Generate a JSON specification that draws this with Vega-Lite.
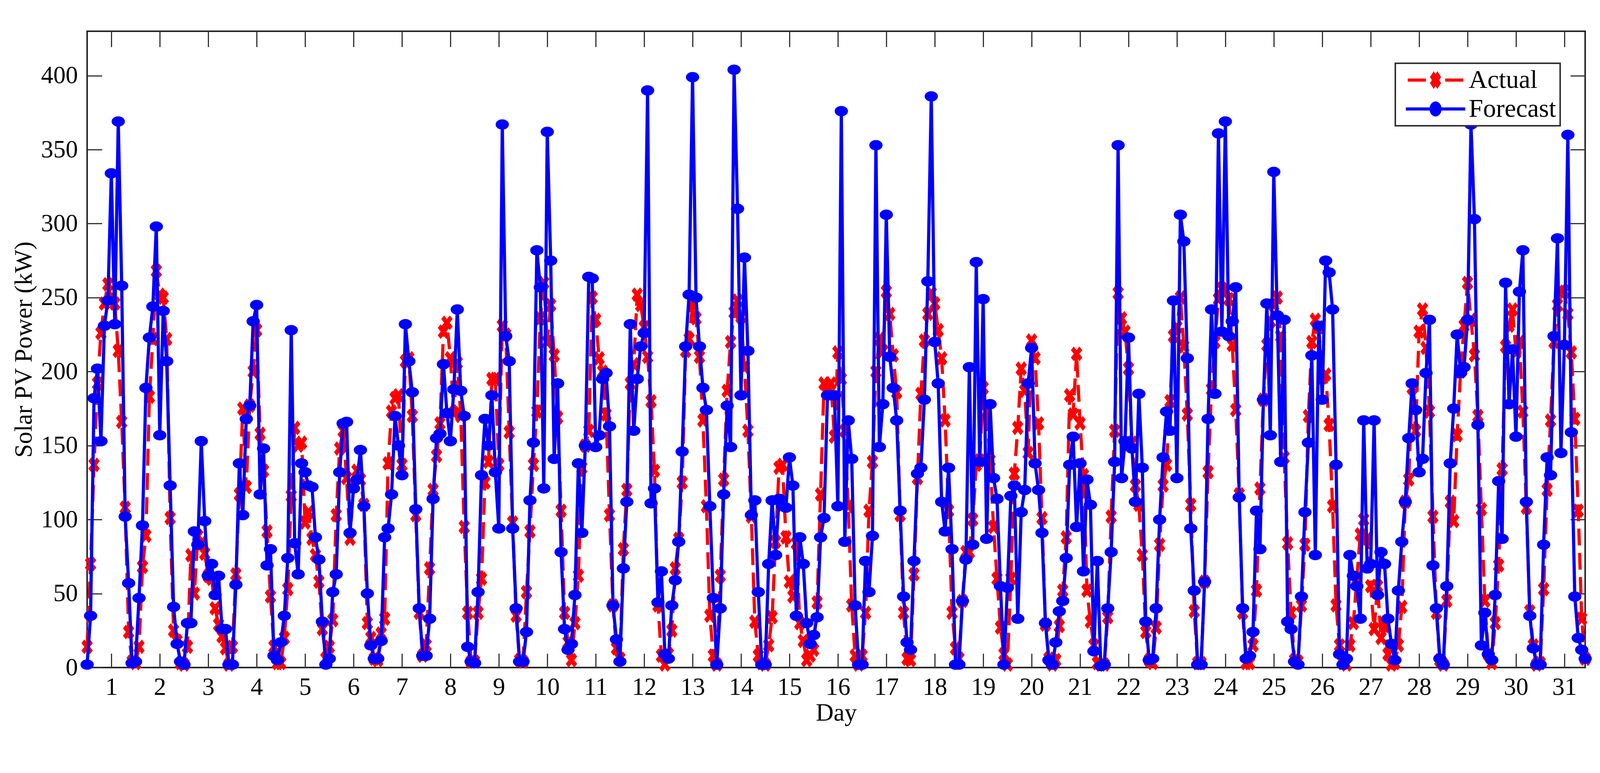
{
  "$schema": "https://vega.github.io/schema/vega-lite/v6.json",
  "width": 3835,
  "height": 1629,
  "autosize": {"type": "none"},
  "padding": {"left": 223, "top": 80, "right": 52, "bottom": 175},
  "background": "white",
  "config": {
    "view": {"stroke": "#262626", "strokeWidth": 4},
    "axis": {
      "domain": false,
      "grid": false,
      "tickColor": "#333333",
      "tickWidth": 3,
      "labelFont": "Liberation Serif",
      "labelFontSize": 63,
      "labelColor": "black",
      "titleFont": "Liberation Serif",
      "titleFontSize": 63,
      "titleFontWeight": "normal",
      "titleColor": "black"
    }
  },
  "data": {
    "values": [
      {"h": 0, "Actual": 14, "Forecast": 2}, {"h": 1, "Actual": 70, "Forecast": 35}, {"h": 2, "Actual": 137, "Forecast": 182}, {"h": 3, "Actual": 192, "Forecast": 202}, {"h": 4, "Actual": 226, "Forecast": 153}, {"h": 5, "Actual": 246, "Forecast": 231}, {"h": 6, "Actual": 259, "Forecast": 248}, {"h": 7, "Actual": 250, "Forecast": 334}, {"h": 8, "Actual": 246, "Forecast": 232}, {"h": 9, "Actual": 214, "Forecast": 369}, {"h": 10, "Actual": 166, "Forecast": 258}, {"h": 11, "Actual": 108, "Forecast": 102}, {"h": 12, "Actual": 24, "Forecast": 57}, {"h": 13, "Actual": 4, "Forecast": 3},
      {"h": 14, "Actual": 3, "Forecast": 4}, {"h": 15, "Actual": 14, "Forecast": 47}, {"h": 16, "Actual": 68, "Forecast": 96}, {"h": 17, "Actual": 89, "Forecast": 189}, {"h": 18, "Actual": 183, "Forecast": 223}, {"h": 19, "Actual": 222, "Forecast": 244}, {"h": 20, "Actual": 268, "Forecast": 298}, {"h": 21, "Actual": 252, "Forecast": 157}, {"h": 22, "Actual": 250, "Forecast": 241}, {"h": 23, "Actual": 222, "Forecast": 207}, {"h": 24, "Actual": 101, "Forecast": 123}, {"h": 25, "Actual": 25, "Forecast": 41}, {"h": 26, "Actual": 18, "Forecast": 16}, {"h": 27, "Actual": 3, "Forecast": 4},
      {"h": 28, "Actual": 2, "Forecast": 2}, {"h": 29, "Actual": 14, "Forecast": 30}, {"h": 30, "Actual": 76, "Forecast": 30}, {"h": 31, "Actual": 50, "Forecast": 92}, {"h": 32, "Actual": 89, "Forecast": 83}, {"h": 33, "Actual": 84, "Forecast": 153}, {"h": 34, "Actual": 77, "Forecast": 99}, {"h": 35, "Actual": 62, "Forecast": 62}, {"h": 36, "Actual": 60, "Forecast": 70}, {"h": 37, "Actual": 40, "Forecast": 49}, {"h": 38, "Actual": 29, "Forecast": 62}, {"h": 39, "Actual": 21, "Forecast": 26}, {"h": 40, "Actual": 13, "Forecast": 26}, {"h": 41, "Actual": 2, "Forecast": 2},
      {"h": 42, "Actual": 14, "Forecast": 2}, {"h": 43, "Actual": 63, "Forecast": 56}, {"h": 44, "Actual": 117, "Forecast": 138}, {"h": 45, "Actual": 175, "Forecast": 103}, {"h": 46, "Actual": 122, "Forecast": 168}, {"h": 47, "Actual": 177, "Forecast": 177}, {"h": 48, "Actual": 200, "Forecast": 234}, {"h": 49, "Actual": 228, "Forecast": 245}, {"h": 50, "Actual": 158, "Forecast": 117}, {"h": 51, "Actual": 133, "Forecast": 148}, {"h": 52, "Actual": 92, "Forecast": 69}, {"h": 53, "Actual": 48, "Forecast": 80}, {"h": 54, "Actual": 14, "Forecast": 8}, {"h": 55, "Actual": 3, "Forecast": 5},
      {"h": 56, "Actual": 3, "Forecast": 17}, {"h": 57, "Actual": 20, "Forecast": 35}, {"h": 58, "Actual": 53, "Forecast": 74}, {"h": 59, "Actual": 116, "Forecast": 228}, {"h": 60, "Actual": 162, "Forecast": 84}, {"h": 61, "Actual": 150, "Forecast": 63}, {"h": 62, "Actual": 152, "Forecast": 138}, {"h": 63, "Actual": 98, "Forecast": 132}, {"h": 64, "Actual": 105, "Forecast": 123}, {"h": 65, "Actual": 87, "Forecast": 122}, {"h": 66, "Actual": 76, "Forecast": 88}, {"h": 67, "Actual": 58, "Forecast": 73}, {"h": 68, "Actual": 26, "Forecast": 31}, {"h": 69, "Actual": 6, "Forecast": 2},
      {"h": 70, "Actual": 14, "Forecast": 6}, {"h": 71, "Actual": 32, "Forecast": 51}, {"h": 72, "Actual": 103, "Forecast": 63}, {"h": 73, "Actual": 148, "Forecast": 132}, {"h": 74, "Actual": 160, "Forecast": 165}, {"h": 75, "Actual": 128, "Forecast": 166}, {"h": 76, "Actual": 87, "Forecast": 91}, {"h": 77, "Actual": 123, "Forecast": 121}, {"h": 78, "Actual": 133, "Forecast": 127}, {"h": 79, "Actual": 127, "Forecast": 147}, {"h": 80, "Actual": 110, "Forecast": 109}, {"h": 81, "Actual": 30, "Forecast": 50}, {"h": 82, "Actual": 20, "Forecast": 15}, {"h": 83, "Actual": 6, "Forecast": 6},
      {"h": 84, "Actual": 5, "Forecast": 6}, {"h": 85, "Actual": 23, "Forecast": 18}, {"h": 86, "Actual": 33, "Forecast": 88}, {"h": 87, "Actual": 138, "Forecast": 94}, {"h": 88, "Actual": 173, "Forecast": 117}, {"h": 89, "Actual": 182, "Forecast": 170}, {"h": 90, "Actual": 184, "Forecast": 150}, {"h": 91, "Actual": 137, "Forecast": 130}, {"h": 92, "Actual": 207, "Forecast": 232}, {"h": 93, "Actual": 209, "Forecast": 207}, {"h": 94, "Actual": 170, "Forecast": 186}, {"h": 95, "Actual": 103, "Forecast": 107}, {"h": 96, "Actual": 37, "Forecast": 40}, {"h": 97, "Actual": 8, "Forecast": 8},
      {"h": 98, "Actual": 15, "Forecast": 8}, {"h": 99, "Actual": 67, "Forecast": 33}, {"h": 100, "Actual": 120, "Forecast": 114}, {"h": 101, "Actual": 143, "Forecast": 155}, {"h": 102, "Actual": 165, "Forecast": 158}, {"h": 103, "Actual": 227, "Forecast": 205}, {"h": 104, "Actual": 233, "Forecast": 172}, {"h": 105, "Actual": 209, "Forecast": 153}, {"h": 106, "Actual": 172, "Forecast": 188}, {"h": 107, "Actual": 206, "Forecast": 242}, {"h": 108, "Actual": 170, "Forecast": 187}, {"h": 109, "Actual": 95, "Forecast": 170}, {"h": 110, "Actual": 37, "Forecast": 14}, {"h": 111, "Actual": 4, "Forecast": 4},
      {"h": 112, "Actual": 4, "Forecast": 3}, {"h": 113, "Actual": 37, "Forecast": 51}, {"h": 114, "Actual": 60, "Forecast": 130}, {"h": 115, "Actual": 125, "Forecast": 168}, {"h": 116, "Actual": 139, "Forecast": 150}, {"h": 117, "Actual": 195, "Forecast": 184}, {"h": 118, "Actual": 195, "Forecast": 132}, {"h": 119, "Actual": 137, "Forecast": 94}, {"h": 120, "Actual": 231, "Forecast": 367}, {"h": 121, "Actual": 225, "Forecast": 224}, {"h": 122, "Actual": 159, "Forecast": 207}, {"h": 123, "Actual": 98, "Forecast": 94}, {"h": 124, "Actual": 35, "Forecast": 40}, {"h": 125, "Actual": 5, "Forecast": 4},
      {"h": 126, "Actual": 4, "Forecast": 4}, {"h": 127, "Actual": 51, "Forecast": 24}, {"h": 128, "Actual": 92, "Forecast": 113}, {"h": 129, "Actual": 137, "Forecast": 152}, {"h": 130, "Actual": 173, "Forecast": 282}, {"h": 131, "Actual": 236, "Forecast": 257}, {"h": 132, "Actual": 260, "Forecast": 121}, {"h": 133, "Actual": 220, "Forecast": 362}, {"h": 134, "Actual": 245, "Forecast": 275}, {"h": 135, "Actual": 211, "Forecast": 141}, {"h": 136, "Actual": 169, "Forecast": 192}, {"h": 137, "Actual": 106, "Forecast": 78}, {"h": 138, "Actual": 37, "Forecast": 26}, {"h": 139, "Actual": 17, "Forecast": 12},
      {"h": 140, "Actual": 5, "Forecast": 16}, {"h": 141, "Actual": 30, "Forecast": 49}, {"h": 142, "Actual": 62, "Forecast": 138}, {"h": 143, "Actual": 135, "Forecast": 91}, {"h": 144, "Actual": 150, "Forecast": 150}, {"h": 145, "Actual": 160, "Forecast": 264}, {"h": 146, "Actual": 250, "Forecast": 263}, {"h": 147, "Actual": 235, "Forecast": 149}, {"h": 148, "Actual": 209, "Forecast": 157}, {"h": 149, "Actual": 200, "Forecast": 195}, {"h": 150, "Actual": 171, "Forecast": 199}, {"h": 151, "Actual": 103, "Forecast": 163}, {"h": 152, "Actual": 42, "Forecast": 42}, {"h": 153, "Actual": 13, "Forecast": 19},
      {"h": 154, "Actual": 6, "Forecast": 4}, {"h": 155, "Actual": 80, "Forecast": 67}, {"h": 156, "Actual": 120, "Forecast": 112}, {"h": 157, "Actual": 192, "Forecast": 232}, {"h": 158, "Actual": 205, "Forecast": 160}, {"h": 159, "Actual": 252, "Forecast": 195}, {"h": 160, "Actual": 245, "Forecast": 217}, {"h": 161, "Actual": 230, "Forecast": 226}, {"h": 162, "Actual": 210, "Forecast": 390}, {"h": 163, "Actual": 180, "Forecast": 111}, {"h": 164, "Actual": 133, "Forecast": 121}, {"h": 165, "Actual": 42, "Forecast": 44}, {"h": 166, "Actual": 8, "Forecast": 65}, {"h": 167, "Actual": 2, "Forecast": 9},
      {"h": 168, "Actual": 9, "Forecast": 6}, {"h": 169, "Actual": 25, "Forecast": 42}, {"h": 170, "Actual": 67, "Forecast": 59}, {"h": 171, "Actual": 87, "Forecast": 85}, {"h": 172, "Actual": 125, "Forecast": 146}, {"h": 173, "Actual": 214, "Forecast": 217}, {"h": 174, "Actual": 222, "Forecast": 252}, {"h": 175, "Actual": 245, "Forecast": 399}, {"h": 176, "Actual": 236, "Forecast": 250}, {"h": 177, "Actual": 210, "Forecast": 217}, {"h": 178, "Actual": 167, "Forecast": 189}, {"h": 179, "Actual": 109, "Forecast": 174}, {"h": 180, "Actual": 35, "Forecast": 109}, {"h": 181, "Actual": 8, "Forecast": 47},
      {"h": 182, "Actual": 2, "Forecast": 2}, {"h": 183, "Actual": 62, "Forecast": 40}, {"h": 184, "Actual": 127, "Forecast": 117}, {"h": 185, "Actual": 187, "Forecast": 177}, {"h": 186, "Actual": 220, "Forecast": 149}, {"h": 187, "Actual": 240, "Forecast": 404}, {"h": 188, "Actual": 248, "Forecast": 310}, {"h": 189, "Actual": 237, "Forecast": 184}, {"h": 190, "Actual": 203, "Forecast": 277}, {"h": 191, "Actual": 160, "Forecast": 214}, {"h": 192, "Actual": 102, "Forecast": 103}, {"h": 193, "Actual": 31, "Forecast": 113}, {"h": 194, "Actual": 8, "Forecast": 51}, {"h": 195, "Actual": 3, "Forecast": 2},
      {"h": 196, "Actual": 2, "Forecast": 2}, {"h": 197, "Actual": 15, "Forecast": 70}, {"h": 198, "Actual": 34, "Forecast": 113}, {"h": 199, "Actual": 85, "Forecast": 76}, {"h": 200, "Actual": 135, "Forecast": 114}, {"h": 201, "Actual": 137, "Forecast": 109}, {"h": 202, "Actual": 88, "Forecast": 108}, {"h": 203, "Actual": 58, "Forecast": 142}, {"h": 204, "Actual": 48, "Forecast": 123}, {"h": 205, "Actual": 84, "Forecast": 35}, {"h": 206, "Actual": 30, "Forecast": 88}, {"h": 207, "Actual": 18, "Forecast": 70}, {"h": 208, "Actual": 5, "Forecast": 30}, {"h": 209, "Actual": 8, "Forecast": 16},
      {"h": 210, "Actual": 12, "Forecast": 22}, {"h": 211, "Actual": 44, "Forecast": 34}, {"h": 212, "Actual": 117, "Forecast": 88}, {"h": 213, "Actual": 192, "Forecast": 101}, {"h": 214, "Actual": 190, "Forecast": 184}, {"h": 215, "Actual": 192, "Forecast": 184}, {"h": 216, "Actual": 156, "Forecast": 184}, {"h": 217, "Actual": 213, "Forecast": 109}, {"h": 218, "Actual": 195, "Forecast": 376}, {"h": 219, "Actual": 160, "Forecast": 85}, {"h": 220, "Actual": 109, "Forecast": 167}, {"h": 221, "Actual": 42, "Forecast": 141}, {"h": 222, "Actual": 8, "Forecast": 42}, {"h": 223, "Actual": 2, "Forecast": 2},
      {"h": 224, "Actual": 8, "Forecast": 2}, {"h": 225, "Actual": 37, "Forecast": 72}, {"h": 226, "Actual": 106, "Forecast": 51}, {"h": 227, "Actual": 139, "Forecast": 89}, {"h": 228, "Actual": 200, "Forecast": 353}, {"h": 229, "Actual": 222, "Forecast": 149}, {"h": 230, "Actual": 214, "Forecast": 178}, {"h": 231, "Actual": 254, "Forecast": 306}, {"h": 232, "Actual": 239, "Forecast": 210}, {"h": 233, "Actual": 211, "Forecast": 189}, {"h": 234, "Actual": 186, "Forecast": 167}, {"h": 235, "Actual": 103, "Forecast": 106}, {"h": 236, "Actual": 37, "Forecast": 48}, {"h": 237, "Actual": 6, "Forecast": 17},
      {"h": 238, "Actual": 5, "Forecast": 12}, {"h": 239, "Actual": 63, "Forecast": 72}, {"h": 240, "Actual": 128, "Forecast": 131}, {"h": 241, "Actual": 185, "Forecast": 135}, {"h": 242, "Actual": 221, "Forecast": 181}, {"h": 243, "Actual": 239, "Forecast": 261}, {"h": 244, "Actual": 253, "Forecast": 386}, {"h": 245, "Actual": 246, "Forecast": 220}, {"h": 246, "Actual": 228, "Forecast": 192}, {"h": 247, "Actual": 209, "Forecast": 112}, {"h": 248, "Actual": 167, "Forecast": 92}, {"h": 249, "Actual": 106, "Forecast": 135}, {"h": 250, "Actual": 37, "Forecast": 80}, {"h": 251, "Actual": 13, "Forecast": 2},
      {"h": 252, "Actual": 6, "Forecast": 2}, {"h": 253, "Actual": 45, "Forecast": 45}, {"h": 254, "Actual": 78, "Forecast": 73}, {"h": 255, "Actual": 78, "Forecast": 203}, {"h": 256, "Actual": 100, "Forecast": 83}, {"h": 257, "Actual": 137, "Forecast": 274}, {"h": 258, "Actual": 140, "Forecast": 139}, {"h": 259, "Actual": 189, "Forecast": 249}, {"h": 260, "Actual": 173, "Forecast": 87}, {"h": 261, "Actual": 140, "Forecast": 178}, {"h": 262, "Actual": 95, "Forecast": 128}, {"h": 263, "Actual": 60, "Forecast": 114}, {"h": 264, "Actual": 27, "Forecast": 55}, {"h": 265, "Actual": 9, "Forecast": 2},
      {"h": 266, "Actual": 2, "Forecast": 54}, {"h": 267, "Actual": 60, "Forecast": 116}, {"h": 268, "Actual": 131, "Forecast": 123}, {"h": 269, "Actual": 162, "Forecast": 33}, {"h": 270, "Actual": 202, "Forecast": 105}, {"h": 271, "Actual": 187, "Forecast": 120}, {"h": 272, "Actual": 145, "Forecast": 192}, {"h": 273, "Actual": 221, "Forecast": 216}, {"h": 274, "Actual": 209, "Forecast": 138}, {"h": 275, "Actual": 165, "Forecast": 120}, {"h": 276, "Actual": 101, "Forecast": 91}, {"h": 277, "Actual": 29, "Forecast": 30}, {"h": 278, "Actual": 6, "Forecast": 5}, {"h": 279, "Actual": 2, "Forecast": 2},
      {"h": 280, "Actual": 5, "Forecast": 17}, {"h": 281, "Actual": 28, "Forecast": 38}, {"h": 282, "Actual": 52, "Forecast": 45}, {"h": 283, "Actual": 88, "Forecast": 74}, {"h": 284, "Actual": 184, "Forecast": 137}, {"h": 285, "Actual": 171, "Forecast": 156}, {"h": 286, "Actual": 212, "Forecast": 95}, {"h": 287, "Actual": 165, "Forecast": 138}, {"h": 288, "Actual": 130, "Forecast": 65}, {"h": 289, "Actual": 52, "Forecast": 127}, {"h": 290, "Actual": 31, "Forecast": 110}, {"h": 291, "Actual": 15, "Forecast": 11}, {"h": 292, "Actual": 3, "Forecast": 72}, {"h": 293, "Actual": 2, "Forecast": 1},
      {"h": 294, "Actual": 2, "Forecast": 2}, {"h": 295, "Actual": 34, "Forecast": 40}, {"h": 296, "Actual": 102, "Forecast": 78}, {"h": 297, "Actual": 160, "Forecast": 139}, {"h": 298, "Actual": 253, "Forecast": 353}, {"h": 299, "Actual": 236, "Forecast": 128}, {"h": 300, "Actual": 227, "Forecast": 153}, {"h": 301, "Actual": 202, "Forecast": 223}, {"h": 302, "Actual": 152, "Forecast": 148}, {"h": 303, "Actual": 123, "Forecast": 112}, {"h": 304, "Actual": 110, "Forecast": 185}, {"h": 305, "Actual": 76, "Forecast": 135}, {"h": 306, "Actual": 24, "Forecast": 31}, {"h": 307, "Actual": 5, "Forecast": 5},
      {"h": 308, "Actual": 3, "Forecast": 6}, {"h": 309, "Actual": 27, "Forecast": 40}, {"h": 310, "Actual": 83, "Forecast": 100}, {"h": 311, "Actual": 123, "Forecast": 142}, {"h": 312, "Actual": 137, "Forecast": 173}, {"h": 313, "Actual": 180, "Forecast": 160}, {"h": 314, "Actual": 224, "Forecast": 248}, {"h": 315, "Actual": 230, "Forecast": 128}, {"h": 316, "Actual": 250, "Forecast": 306}, {"h": 317, "Actual": 217, "Forecast": 288}, {"h": 318, "Actual": 171, "Forecast": 209}, {"h": 319, "Actual": 110, "Forecast": 94}, {"h": 320, "Actual": 38, "Forecast": 52}, {"h": 321, "Actual": 3, "Forecast": 2},
      {"h": 322, "Actual": 3, "Forecast": 2}, {"h": 323, "Actual": 58, "Forecast": 58}, {"h": 324, "Actual": 132, "Forecast": 168}, {"h": 325, "Actual": 188, "Forecast": 242}, {"h": 326, "Actual": 220, "Forecast": 185}, {"h": 327, "Actual": 249, "Forecast": 361}, {"h": 328, "Actual": 256, "Forecast": 227}, {"h": 329, "Actual": 255, "Forecast": 369}, {"h": 330, "Actual": 249, "Forecast": 224}, {"h": 331, "Actual": 218, "Forecast": 234}, {"h": 332, "Actual": 174, "Forecast": 257}, {"h": 333, "Actual": 117, "Forecast": 115}, {"h": 334, "Actual": 37, "Forecast": 40}, {"h": 335, "Actual": 3, "Forecast": 6},
      {"h": 336, "Actual": 3, "Forecast": 8}, {"h": 337, "Actual": 15, "Forecast": 24}, {"h": 338, "Actual": 52, "Forecast": 106}, {"h": 339, "Actual": 121, "Forecast": 80}, {"h": 340, "Actual": 181, "Forecast": 181}, {"h": 341, "Actual": 218, "Forecast": 246}, {"h": 342, "Actual": 234, "Forecast": 157}, {"h": 343, "Actual": 245, "Forecast": 335}, {"h": 344, "Actual": 250, "Forecast": 238}, {"h": 345, "Actual": 224, "Forecast": 139}, {"h": 346, "Actual": 142, "Forecast": 235}, {"h": 347, "Actual": 84, "Forecast": 31}, {"h": 348, "Actual": 37, "Forecast": 26}, {"h": 349, "Actual": 5, "Forecast": 4},
      {"h": 350, "Actual": 4, "Forecast": 2}, {"h": 351, "Actual": 42, "Forecast": 48}, {"h": 352, "Actual": 83, "Forecast": 105}, {"h": 353, "Actual": 170, "Forecast": 152}, {"h": 354, "Actual": 220, "Forecast": 211}, {"h": 355, "Actual": 235, "Forecast": 76}, {"h": 356, "Actual": 230, "Forecast": 231}, {"h": 357, "Actual": 196, "Forecast": 181}, {"h": 358, "Actual": 198, "Forecast": 275}, {"h": 359, "Actual": 164, "Forecast": 267}, {"h": 360, "Actual": 109, "Forecast": 242}, {"h": 361, "Actual": 42, "Forecast": 137}, {"h": 362, "Actual": 15, "Forecast": 9}, {"h": 363, "Actual": 3, "Forecast": 2},
      {"h": 364, "Actual": 2, "Forecast": 6}, {"h": 365, "Actual": 15, "Forecast": 76}, {"h": 366, "Actual": 30, "Forecast": 62}, {"h": 367, "Actual": 60, "Forecast": 55}, {"h": 368, "Actual": 90, "Forecast": 33}, {"h": 369, "Actual": 100, "Forecast": 167}, {"h": 370, "Actual": 87, "Forecast": 67}, {"h": 371, "Actual": 55, "Forecast": 70}, {"h": 372, "Actual": 26, "Forecast": 167}, {"h": 373, "Actual": 55, "Forecast": 49}, {"h": 374, "Actual": 20, "Forecast": 78}, {"h": 375, "Actual": 28, "Forecast": 70}, {"h": 376, "Actual": 9, "Forecast": 33}, {"h": 377, "Actual": 2, "Forecast": 16},
      {"h": 378, "Actual": 3, "Forecast": 5}, {"h": 379, "Actual": 15, "Forecast": 52}, {"h": 380, "Actual": 41, "Forecast": 85}, {"h": 381, "Actual": 112, "Forecast": 112}, {"h": 382, "Actual": 127, "Forecast": 155}, {"h": 383, "Actual": 189, "Forecast": 192}, {"h": 384, "Actual": 160, "Forecast": 174}, {"h": 385, "Actual": 227, "Forecast": 132}, {"h": 386, "Actual": 242, "Forecast": 141}, {"h": 387, "Actual": 216, "Forecast": 199}, {"h": 388, "Actual": 173, "Forecast": 235}, {"h": 389, "Actual": 102, "Forecast": 69}, {"h": 390, "Actual": 37, "Forecast": 40}, {"h": 391, "Actual": 5, "Forecast": 6},
      {"h": 392, "Actual": 2, "Forecast": 2}, {"h": 393, "Actual": 45, "Forecast": 55}, {"h": 394, "Actual": 112, "Forecast": 138}, {"h": 395, "Actual": 99, "Forecast": 175}, {"h": 396, "Actual": 157, "Forecast": 225}, {"h": 397, "Actual": 200, "Forecast": 199}, {"h": 398, "Actual": 231, "Forecast": 203}, {"h": 399, "Actual": 260, "Forecast": 235}, {"h": 400, "Actual": 235, "Forecast": 367}, {"h": 401, "Actual": 211, "Forecast": 303}, {"h": 402, "Actual": 170, "Forecast": 164}, {"h": 403, "Actual": 107, "Forecast": 15}, {"h": 404, "Actual": 45, "Forecast": 37}, {"h": 405, "Actual": 9, "Forecast": 9},
      {"h": 406, "Actual": 3, "Forecast": 5}, {"h": 407, "Actual": 30, "Forecast": 49}, {"h": 408, "Actual": 69, "Forecast": 126}, {"h": 409, "Actual": 134, "Forecast": 87}, {"h": 410, "Actual": 217, "Forecast": 260}, {"h": 411, "Actual": 231, "Forecast": 178}, {"h": 412, "Actual": 242, "Forecast": 215}, {"h": 413, "Actual": 213, "Forecast": 156}, {"h": 414, "Actual": 220, "Forecast": 254}, {"h": 415, "Actual": 173, "Forecast": 282}, {"h": 416, "Actual": 108, "Forecast": 112}, {"h": 417, "Actual": 38, "Forecast": 35}, {"h": 418, "Actual": 15, "Forecast": 13}, {"h": 419, "Actual": 2, "Forecast": 2},
      {"h": 420, "Actual": 3, "Forecast": 2}, {"h": 421, "Actual": 53, "Forecast": 83}, {"h": 422, "Actual": 120, "Forecast": 142}, {"h": 423, "Actual": 167, "Forecast": 130}, {"h": 424, "Actual": 220, "Forecast": 224}, {"h": 425, "Actual": 245, "Forecast": 290}, {"h": 426, "Actual": 254, "Forecast": 145}, {"h": 427, "Actual": 254, "Forecast": 218}, {"h": 428, "Actual": 239, "Forecast": 360}, {"h": 429, "Actual": 213, "Forecast": 159}, {"h": 430, "Actual": 168, "Forecast": 48}, {"h": 431, "Actual": 106, "Forecast": 20}, {"h": 432, "Actual": 33, "Forecast": 12}, {"h": 433, "Actual": 6, "Forecast": 6}
    ]
  },
  "transform": [{"fold": ["Actual", "Forecast"], "as": ["series", "kw"]}],
  "encoding": {
    "x": {
      "field": "h",
      "type": "quantitative",
      "scale": {"domain": [0, 433], "nice": false, "zero": false},
      "axis": {
        "orient": "bottom",
        "values": [7, 21, 35, 49, 63, 77, 91, 105, 119, 133, 147, 161, 175, 189, 203, 217, 231, 245, 259, 273, 287, 301, 315, 329, 343, 357, 371, 385, 399, 413, 427],
        "labelExpr": "(datum.value - 7) / 14 + 1",
        "title": "Day",
        "tickSize": -36,
        "labelPadding": 55,
        "minExtent": 82,
        "maxExtent": 82,
        "titlePadding": 3
      }
    },
    "y": {
      "field": "kw",
      "type": "quantitative",
      "scale": {"domain": [0, 430], "nice": false},
      "axis": {
        "orient": "left",
        "values": [0, 50, 100, 150, 200, 250, 300, 350, 400],
        "title": "Solar PV Power (kW)",
        "tickSize": -38,
        "labelPadding": 62,
        "minExtent": 118,
        "maxExtent": 118,
        "titlePadding": 12
      }
    },
    "color": {
      "field": "series",
      "type": "nominal",
      "scale": {"domain": ["Actual", "Forecast"], "range": ["#ff0000", "#0000ff"]},
      "legend": {
        "title": null,
        "orient": "none",
        "legendX": 3349,
        "legendY": 82,
        "padding": 10,
        "rowPadding": 8,
        "labelFont": "Liberation Serif",
        "labelFontSize": 66,
        "labelColor": "black",
        "labelLimit": 600,
        "symbolSize": 1444,
        "symbolOffset": 60,
        "labelOffset": 52,
        "encode": {
          "legend": {"update": {"fill": {"value": "white"}, "stroke": {"value": "#333333"}, "strokeWidth": {"value": 4}}},
          "symbols": {
            "update": {
              "shape": {"signal": "datum.value === 'Actual' ? 'M-3.75,0H-1.3M1.3,0H3.75M0.25,-0.8L0.5,-0.4L0.25,0L0.5,0.4L0.25,0.8L0,0.4L-0.25,0.8L-0.5,0.4L-0.25,0L-0.5,-0.4L-0.25,-0.8L0,-0.4Z' : 'M-4,0H4M-0.6,0A0.6,0.8 0 1,0 0.6,0A0.6,0.8 0 1,0 -0.6,0Z'"},
              "fill": {"signal": "datum.value === 'Actual' ? '#ff0000' : '#0000ff'"},
              "stroke": {"signal": "datum.value === 'Actual' ? '#ff0000' : '#0000ff'"},
              "strokeWidth": {"value": 8},
              "strokeDash": {"value": [1, 0]},
              "opacity": {"value": 1}
            }
          }
        }
      }
    }
  },
  "layer": [
    {
      "transform": [{"filter": "datum.series === 'Actual'"}],
      "mark": {
        "type": "line",
        "strokeWidth": 8.2,
        "strokeDash": [43, 19],
        "point": {"shape": "M0.42,-1.1L0.85,-0.55L0.42,0L0.85,0.55L0.42,1.1L0,0.55L-0.42,1.1L-0.85,0.55L-0.42,0L-0.85,-0.55L-0.42,-1.1L0,-0.55Z", "size": 1180, "filled": true}
      }
    },
    {
      "transform": [{"filter": "datum.series === 'Forecast'"}],
      "mark": {
        "type": "line",
        "strokeWidth": 8.2,
        "point": {"shape": "M-1,0A1,0.78 0 1,0 1,0A1,0.78 0 1,0 -1,0Z", "size": 1156, "filled": true}
      },
      "encoding": {
        "x": {
          "field": "h",
          "type": "quantitative",
          "scale": {"domain": [0, 433], "nice": false, "zero": false},
          "axis": {
            "orient": "top",
            "values": [7, 21, 35, 49, 63, 77, 91, 105, 119, 133, 147, 161, 175, 189, 203, 217, 231, 245, 259, 273, 287, 301, 315, 329, 343, 357, 371, 385, 399, 413, 427],
            "labels": false,
            "title": null,
            "tickSize": -40
          }
        },
        "y": {
          "field": "kw",
          "type": "quantitative",
          "scale": {"domain": [0, 430], "nice": false},
          "axis": {
            "orient": "right",
            "values": [0, 50, 100, 150, 200, 250, 300, 350, 400],
            "labels": false,
            "title": null,
            "tickSize": -38
          }
        }
      }
    }
  ],
  "resolve": {"axis": {"x": "independent", "y": "independent"}}
}
